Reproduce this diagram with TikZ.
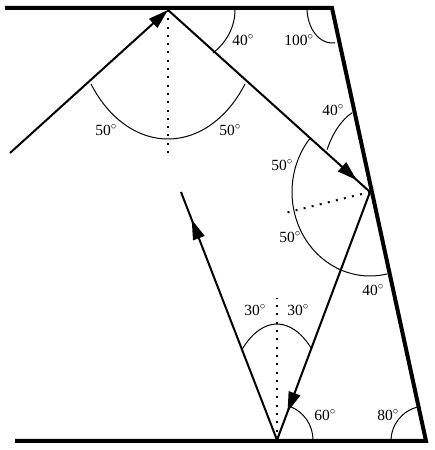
\documentclass[tikz,border=0pt]{standalone}
\usepackage{fontspec}
\setmainfont{Liberation Serif}
\usepackage{tikz}
\usetikzlibrary{arrows.meta,decorations.markings}
\tikzstyle{mirror} = [draw, line width=4pt, line join=miter]
\tikzstyle{ray} = [draw, line width=2pt]
\tikzstyle{normal} = [draw, line width=2pt, dash pattern=on 2pt off 6.3pt]
\tikzstyle{angle} = [draw, line width=1pt]
\tikzstyle{deg} = [inner sep=0pt, font=\fontsize{15.5}{18}\selectfont]
\tikzset{tip at/.style={postaction={decorate, decoration={markings,
    mark=at position #1 with {\arrow{Triangle[length=20pt,width=12pt]}}}}}}

\begin{document}
\begin{tikzpicture}[x=1pt, y=1pt]
    \useasboundingbox (0,0) rectangle (434,450);
    % Place points
    \coordinate (tl) at (5,442);
    \coordinate (tc) at (332,442);
    \coordinate (bc) at (426,9);
    \coordinate (bl) at (15,9);
    \coordinate (src) at (10,297);
    \coordinate (p1) at (168,440);
    \coordinate (p2) at (370,258);
    \coordinate (p3) at (277,10);
    \coordinate (out) at (181,258);
    \coordinate (n1) at (168,295);
    \coordinate (n2) at (285,237);
    \coordinate (n3) at (277,152);
    % Mirrors
    \path [mirror] (tl) -- (tc) -- (bc) -- (bl);
    % Normals
    \path [normal] (p1) -- (n1);
    \path [normal] (p2) -- (n2);
    \path [normal] (p3) -- (n3);
    % Draw rays
    \path [ray, -{Triangle[length=20pt,width=12pt]}] (src) -- (p1);
    \path [ray, tip at=0.935] (p1) -- (p2);
    \path [ray, tip at=0.887] (p2) -- (p3);
    \path [ray, tip at=0.889] (p3) -- (out);
    % Angle arcs
    \path [angle] (p1) ++(215:94 and 129) arc[start angle=215, end angle=325, x radius=94, y radius=129];
    \path [angle] (p1) ++(0:67 and 58) arc[start angle=0, end angle=-48, x radius=67, y radius=58];
    \path [angle] (tc) ++(180:25 and 35) arc[start angle=180, end angle=277, x radius=25, y radius=35];
    \path [angle] (p2) ++(111:49.5 and 85) arc[start angle=111, end angle=150, x radius=49.5, y radius=85];
    \path [angle] (p2) ++(140:78 and 84) arc[start angle=140, end angle=283, x radius=78, y radius=84];
    \path [angle] (p3) ++(51.7:56 and 116) arc[start angle=51.7, end angle=128.3, x radius=56, y radius=116];
    \path [angle] (p3) ++(0:36) arc[start angle=0, end angle=69.5, radius=36];
    \path [angle] (bc) ++(102:35) arc[start angle=102, end angle=180, radius=35];
    % Labels
    \node [deg] (a1) at (243,410) {40$^\circ$};
    \node [deg] (a2) at (299,410) {100$^\circ$};
    \node [deg] (a3) at (106,320) {50$^\circ$};
    \node [deg] (a4) at (230,320) {50$^\circ$};
    \node [deg] (a5) at (333,340) {40$^\circ$};
    \node [deg] (a6) at (282,285) {50$^\circ$};
    \node [deg] (a7) at (290,213) {50$^\circ$};
    \node [deg] (a8) at (373,160) {40$^\circ$};
    \node [deg] (a9) at (255,140) {30$^\circ$};
    \node [deg] (a10) at (298,140) {30$^\circ$};
    \node [deg] (a11) at (325,35) {60$^\circ$};
    \node [deg] (a12) at (388,35) {80$^\circ$};
\end{tikzpicture}
\end{document}
